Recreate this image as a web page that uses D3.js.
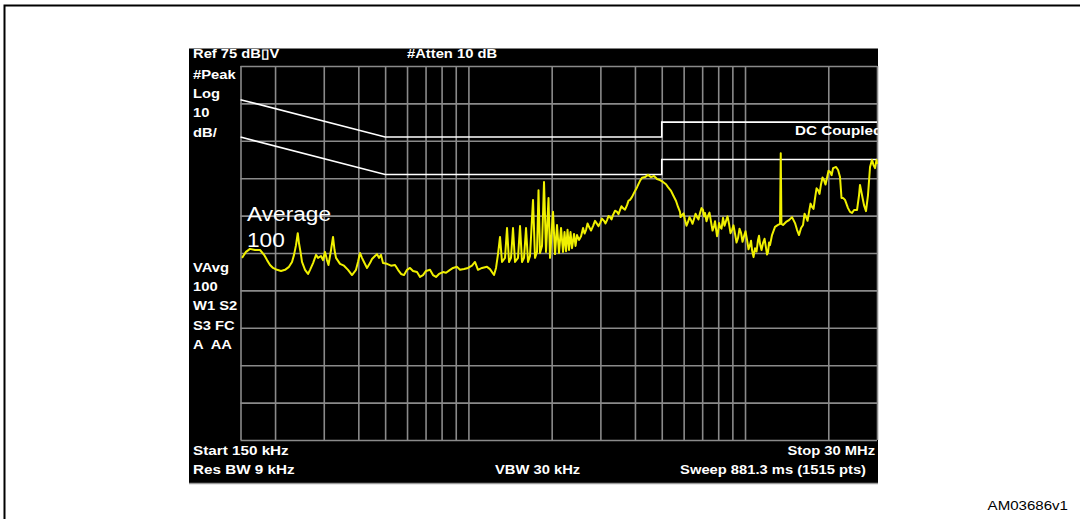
<!DOCTYPE html>
<html><head><meta charset="utf-8">
<script src="https://cdn.jsdelivr.net/npm/d3@7"></script>
<style>body{margin:0;background:#fff;overflow:hidden} svg{display:block}</style>
</head><body>
<script>
// ---- data ----
const traceFreqMHz = [
0.1519,0.1570,0.1623,0.1692,0.1765,0.1825,0.1871,0.1918,0.1967,0.2033,
0.2102,0.2173,0.2246,0.2303,0.2342,0.2381,0.2416,0.2441,0.2472,0.2503,
0.2567,0.2632,0.2676,0.2744,0.2813,0.2860,0.2931,0.2981,0.3031,0.3082,
0.3120,0.3187,0.3240,0.3281,0.3322,0.3434,0.3550,0.3671,0.3795,0.3923,
0.3989,0.4056,0.4124,0.4193,0.4300,0.4408,0.4482,0.4595,0.4673,0.4751,
0.4831,0.4912,0.5079,0.5251,0.5428,0.5566,0.5707,0.5851,0.5999,0.6150,
0.6306,0.6520,0.6685,0.6854,0.7028,0.7264,0.7448,0.7637,0.7829,0.8096,
0.8301,0.8581,0.8798,0.9097,0.9327,0.9643,0.9970,1.0302,1.0563,1.0830,
1.1200,1.1677,1.1970,1.2376,1.2584,1.2795,1.3010,1.3229,1.3563,1.3792,
1.4022,1.4257,1.4496,1.4739,1.5112,1.5367,1.5625,1.5888,1.6155,1.6426,
1.670,1.7123,1.7410,1.7704,1.7924,1.815,1.8455,1.8765,1.9081,1.9480,
1.9725,2.0224,2.0563,2.0910,2.1260,2.1620,2.1982,2.2259,2.2540,2.2823,
2.3108,2.3398,2.3691,2.4090,2.4393,2.4700,2.5113,2.5543,2.5971,2.6630,
2.7300,2.8216,2.9174,2.991,3.0924,3.1707,3.251,3.3333,3.4464,3.533,
3.6224,3.7453,3.840,3.9045,4.0032,4.0708,4.172,4.2420,4.3493,4.4594,
4.5731,4.6887,4.8075,4.928,5.0527,5.1808,5.2675,5.4020,5.4926,5.6318,
5.7261,5.821,5.9188,6.0684,6.2221,6.3801,6.5415,6.7073,6.875,7.0489,
7.1672,7.3487,7.5358,7.7263,7.8564,7.9879,8.122,8.3275,8.5387,8.7539,
8.9743,9.2011,9.4341,9.6736,9.9182,10.170,10.425,10.600,10.734,10.868,
11.143,11.332,11.619,11.913,12.113,12.313,12.520,12.836,13.161,13.384,
13.463,13.541,13.723,14.071,14.425,14.788,15.162,15.418,15.676,15.943,
16.210,16.621,17.040,17.469,17.910,18.364,18.827,19.303,19.792,20.30,
20.814,21.341,21.699,22.05,22.328,22.608,22.987,23.569,23.97,24.373,
24.783,25.411,25.835,26.04,26.477,26.923,27.376,27.834,28.31,28.786,
29.148,29.513,29.885,30.0
];
const traceLevelDb = [
23.7,25.3,26.1,25.8,25.8,24.5,23.1,21.8,21.0,20.5,
20.2,20.5,21.3,22.6,24.5,27.1,30.3,27.6,25.3,22.6,
20.5,19.4,20.5,22.3,24.5,23.7,24.2,23.1,25.3,23.1,
21.8,25.8,29.3,25.8,23.7,22.1,21.6,20.5,19.1,20.5,
22.6,25.0,23.7,22.6,21.0,22.3,23.4,24.2,24.7,23.7,
24.5,22.3,22.1,21.6,21.8,20.5,19.4,19.1,20.5,21.0,
20.2,19.9,18.6,19.1,20.2,20.5,19.1,18.6,19.4,19.9,
19.7,20.5,21.0,21.3,20.5,20.7,21.0,21.6,22.6,20.5,
21.0,21.3,20.7,19.1,21.0,24.7,29.3,22.6,23.7,31.7,
22.6,23.7,31.7,22.6,23.7,32.2,22.6,23.7,31.7,22.6,
24.2,39.2,23.7,25.3,41.8,25.0,26.9,44.0,25.3,39.7,
23.7,36.0,24.7,32.5,25.0,31.7,25.3,30.6,25.5,31.2,
25.8,30.6,26.3,30.1,26.9,29.8,28.5,29.5,31.7,31.2,
32.0,32.2,32.8,33.0,33.6,33.8,34.6,35.2,36.0,36.5,
37.0,37.8,39.2,40.0,41.6,42.6,44.3,45.1,45.3,45.9,
45.3,45.6,44.8,44.5,44.0,43.4,42.6,41.6,40.5,38.9,
37.3,36.0,35.2,33.8,33.3,33.8,34.1,34.6,35.7,36.5,
35.7,34.9,33.3,32.2,31.4,30.6,32.0,34.4,33.6,32.8,
31.2,30.1,29.0,30.4,29.5,28.5,27.1,25.8,23.9,26.3,
28.5,27.4,27.7,26.3,25.3,27.1,29.8,32.0,32.5,32.8,
51.7,32.8,32.5,33.3,33.8,34.6,33.0,31.2,29.8,31.7,
32.5,34.6,36.0,37.3,39.7,41.8,43.4,44.5,45.1,46.7,
47.7,48.0,47.2,45.3,39.7,39.7,39.2,37.0,36.0,35.7,
36.5,36.5,40.5,43.2,40.5,37.8,36.2,40.5,48.0,49.9,
48.5,47.7,49.9,48.8
];
// extra readings inside the noisy band of the sweep (merged with the main readings)
const traceDetailFreqMHz = [
2.630,2.696,2.775,2.869,2.954,3.041,3.131,3.210,3.292,3.389,
3.489,3.578,3.683,3.792,
5.846,5.993,6.145,6.300,6.461,6.624,6.791,6.962,7.108,
7.258,7.439,7.631,7.790,7.922,8.054,8.224,8.432,8.646,8.863,
9.087,9.318,9.552,9.795,10.043,10.296,10.513,11.006,11.236,11.475,
11.765,12.013,12.214,
16.414,16.830,17.252,17.689,18.137,18.592,19.064,19.546,20.038,20.556
];
const traceDetailDb = [
30.2,32.9,31.0,33.6,32.2,34.2,32.9,34.9,34.0,36.3,
35.4,37.5,36.6,39.0,
34.6,35.6,32.3,34.6,32.8,35.5,34.0,37.0,34.8,
33.5,35.8,31.0,33.5,29.5,33.0,31.5,32.3,34.8,30.3,
32.4,27.8,31.5,28.0,30.8,26.0,28.3,25.4,29.6,25.8,
28.8,24.6,27.8,
35.5,33.6,38.2,36.8,42.3,40.8,45.2,43.3,47.0,45.8
];
// limit lines (dBµV)
const qpLimitFreqMHz  = [0.15, 0.5, 5, 5, 30];
const qpLimitDb       = [66, 56, 56, 60, 60];
const avgLimitFreqMHz = [0.15, 0.5, 5, 5, 30];
const avgLimitDb      = [56, 46, 46, 50, 50];
// grid
const gridFreqMHz = [0.15,0.2,0.3,0.4,0.5,0.6,0.7,0.8,0.9,1,2,3,4,5,6,7,8,9,10,20,30];
const gridLevelDb = [75,65,55,45,35,25,15,5,-5,-15,-25];
// texts
const headerLeft = "Ref 75 dB\u25AFV";
const headerMid = "#Atten 10 dB";
const sideTopLabels = ["#Peak","Log","10","dB/"];
const sideBottomLabels = ["VAvg","100","W1 S2","S3 FC","A  AA"];
const footerLeft = ["Start 150 kHz","Res BW 9 kHz"];
const footerMid = "VBW 30 kHz";
const footerRight = ["Stop 30 MHz","Sweep 881.3 ms (1515 pts)"];
const traceLabel = ["Average","100"];
const couplingLabel = "DC Coupled";
const figureId = "AM03686v1";

// ---- drawing ----
const W = 1080, H = 519;
const svg = d3.select("body").append("svg").attr("width", W).attr("height", H);
const x = d3.scaleLog().domain([0.15, 30]).range([240.5, 877]);
const y = d3.scaleLinear().domain([75, -25]).range([66, 440]);
const FONT = "'Liberation Sans', Arial, Helvetica, sans-serif";

// outer frame
svg.append("path").attr("d", "M1080,5.5H4.5V519").attr("fill","none").attr("stroke","#000").attr("stroke-width",2);

// black panel
svg.append("rect").attr("x",189).attr("y",48.5).attr("width",689).attr("height",435).attr("fill","#000");
svg.append("line").attr("x1",189).attr("x2",878).attr("y1",483.5).attr("y2",483.5).attr("stroke","#9a9a9a").attr("stroke-width",1.5);

const gridColor = "#8a8a8a";
const gx = svg.append("g").attr("transform", `translate(0,${y(-25)})`)
  .call(d3.axisBottom(x).tickValues(gridFreqMHz).tickSize(-(y(-25)-y(75))).tickFormat(""));
gx.select(".domain").remove();
gx.selectAll("line").attr("stroke", gridColor).attr("stroke-width", 1.6);
const gy = svg.append("g").attr("transform", `translate(${x(0.15)},0)`)
  .call(d3.axisLeft(y).tickValues(gridLevelDb).tickSize(-(x(30)-x(0.15))).tickFormat(""));
gy.select(".domain").remove();
gy.selectAll("line").attr("stroke", gridColor).attr("stroke-width", 1.6);

// limit lines
const line = d3.line().x(d => x(d[0])).y(d => y(d[1]));
[[qpLimitFreqMHz, qpLimitDb],[avgLimitFreqMHz, avgLimitDb]].forEach(([f, l]) => {
  svg.append("path").datum(d3.zip(f, l)).attr("d", line)
    .attr("fill","none").attr("stroke","#fff").attr("stroke-width",1.6);
});

// trace
const tracePts = d3.zip(traceFreqMHz, traceLevelDb)
  .concat(d3.zip(traceDetailFreqMHz, traceDetailDb))
  .sort((a, b) => a[0] - b[0]);
svg.append("path").datum(tracePts).attr("d", line)
  .attr("fill","none").attr("stroke","#f0f000").attr("stroke-width",2).attr("stroke-linejoin","round");

// text helper
function txt(px, py, str, o = {}) {
  const sx = o.sx ?? 1.18;
  return (o.parent || svg).append("text")
    .attr("transform", `translate(${px},${py}) scale(${sx},1)`)
    .attr("text-anchor", o.anchor || "start")
    .attr("font-family", FONT)
    .attr("font-size", o.size || 12.5)
    .attr("font-weight", o.weight || "bold")
    .attr("fill", o.fill || "#fff")
    .style("white-space", "pre")
    .text(str);
}
txt(193, 58, headerLeft);
txt(407, 58, headerMid);
sideTopLabels.forEach((s, i) => txt(193, 78.5 + i * 19.4, s));
sideBottomLabels.forEach((s, i) => txt(193, 272 + i * 19.2, s));
txt(193, 455, footerLeft[0], {sx: 1.22});
txt(193, 474, footerLeft[1], {sx: 1.22});
txt(495, 474, footerMid);
txt(875, 455, footerRight[0], {anchor: "end"});
txt(866, 474, footerRight[1], {anchor: "end"});

// clipped DC Coupled
svg.append("clipPath").attr("id","pclip").append("rect").attr("x",189).attr("y",48).attr("width",689).attr("height",436);
const cg = svg.append("g").attr("clip-path","url(#pclip)");
txt(795, 135, couplingLabel, {parent: cg, sx: 1.22});

txt(247, 221, traceLabel[0], {size: 21, weight: "normal", sx: 1.08});
txt(247, 247, traceLabel[1], {size: 21, weight: "normal", sx: 1.08});

txt(1068, 510, figureId, {size: 13, weight: "normal", fill: "#000", anchor: "end", sx: 1.16});
</script>
</body></html>
